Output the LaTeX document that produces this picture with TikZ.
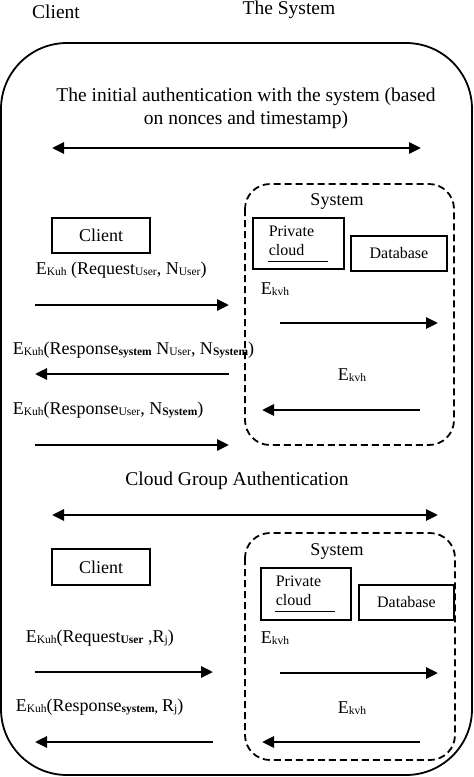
\documentclass[tikz,border=0pt]{standalone}
\usepackage{fontspec}
\setmainfont{Liberation Serif}
\usetikzlibrary{arrows.meta}
\newcommand\lo[1]{\raisebox{-1.5pt}{\fontsize{11.5}{12}\selectfont #1}}

\begin{document}
\begin{tikzpicture}[
      x=1pt, y=-1pt,
      inner sep=0pt,
      line width=1.6pt,
      font=\fontsize{18}{22}\selectfont,
      head/.style={font=\fontsize{19.5}{23}\selectfont},
      box/.style={draw, line width=1.6pt},
      msg/.style={line width=2.8pt, -{Triangle[length=12pt,width=11pt]}},
      both/.style={line width=2.8pt, {Triangle[length=12pt,width=11pt]}-{Triangle[length=12pt,width=11pt]}},
      sysarea/.style={draw, dashed, dash pattern=on 7pt off 4pt, line width=1.8pt, rounded corners=25pt}]

    \useasboundingbox (0,0) rectangle (474,777);

    % headings
    \node (client) at (56,12) [head] {Client};
    \node (system) at (289,10) [head] {The System};

    % outer frame
    \draw[line width=1.8pt, rounded corners=66pt] (1,43) rectangle (472,775);

    % initial authentication y=97
    \node (init) at (246,108) [head, align=center] {The initial authentication with the system (based\\on nonces and timestamp)};
    \coordinate (initl) at (52,148);
    \coordinate (initr) at (421,148);
    \draw[both] (initl) -- (initr);

    % system area 1
    \draw[sysarea] (245,184) rectangle (454,445);
    \node (sys1) at (337,201) {System};
    \node (pc1) at (298.5,243.5) [box, minimum width=91pt, minimum height=51pt] {};
    \node (pct1) at (268,241) [anchor=west, align=left, font=\fontsize{16}{19}\selectfont] {Private\\cloud};
    \draw[line width=1pt] (268,261) -- (328,261);
    \node (db1) at (399,253.5) [box, minimum width=96pt, minimum height=35pt, font=\fontsize{16}{19}\selectfont] {Database};
    \node (ek1) at (260,289) [anchor=west] {E\lo{kvh}};
    \node (ek2) at (337,375) [anchor=west] {E\lo{kvh}};
    \coordinate (s1a) at (280,323);
    \coordinate (s1b) at (438,323);
    \coordinate (s1c) at (420,410);
    \coordinate (s1d) at (262,410);
    \draw[msg] (s1a) -- (s1b);
    \draw[msg] (s1c) -- (s1d);

    % client side 1
    \node (cl1) at (101,235.5) [box, minimum width=98pt, minimum height=35pt] {Client};
    \node (m1) at (35,270) [anchor=west] {E\lo{Kuh} (Request\lo{User}, N\lo{User})};
    \node (m2) at (12,350) [anchor=west] {E\lo{Kuh}(Response\lo{\bfseries system} N\lo{User}, N\lo{\bfseries System})};
    \node (m3) at (12,410) [anchor=west] {E\lo{Kuh}(Response\lo{User}, N\lo{\bfseries System})};
    \coordinate (c1a) at (35,305);
    \coordinate (c1b) at (229,305);
    \coordinate (c2a) at (229,374);
    \coordinate (c2b) at (35,374);
    \coordinate (c3a) at (35,445);
    \coordinate (c3b) at (229,445);
    \draw[msg] (c1a) -- (c1b);
    \draw[msg] (c2a) -- (c2b);
    \draw[msg] (c3a) -- (c3b);

    % cloud group authentication y=481
    \node (group) at (237,481) [head] {Cloud Group Authentication};
    \coordinate (grpl) at (52,515);
    \coordinate (grpr) at (438,515);
    \draw[both] (grpl) -- (grpr);

    % system area 2
    \draw[sysarea] (245,533) rectangle (455,760);
    \node (sys2) at (337,551) {System};
    \node (pc2) at (306,594) [box, minimum width=90pt, minimum height=52pt] {};
    \node (pct2) at (275,591) [anchor=west, align=left, font=\fontsize{16}{19}\selectfont] {Private\\cloud};
    \draw[line width=1pt] (275,611) -- (335,611);
    \node (db2) at (406.5,602.5) [box, minimum width=95pt, minimum height=35pt, font=\fontsize{16}{19}\selectfont] {Database};
    \node (ek3) at (260,638) [anchor=west] {E\lo{kvh}};
    \node (ek4) at (337,708) [anchor=west] {E\lo{kvh}};
    \coordinate (s2a) at (280,673);
    \coordinate (s2b) at (438,673);
    \coordinate (s2c) at (420,742);
    \coordinate (s2d) at (262,742);
    \draw[msg] (s2a) -- (s2b);
    \draw[msg] (s2c) -- (s2d);

    % client side 2
    \node (cl2) at (101,567) [box, minimum width=98pt, minimum height=36pt] {Client};
    \node (m4) at (25,638) [anchor=west] {E\lo{Kuh}(Request\lo{\bfseries User} ,R\lo{j})};
    \node (m5) at (15,707) [anchor=west] {E\lo{Kuh}(Response\lo{\bfseries system,} R\lo{j})};
    \coordinate (c4a) at (35,672);
    \coordinate (c4b) at (213,672);
    \coordinate (c5a) at (213,742);
    \coordinate (c5b) at (35,742);
    \draw[msg] (c4a) -- (c4b);
    \draw[msg] (c5a) -- (c5b);

  \end{tikzpicture}
\end{document}
